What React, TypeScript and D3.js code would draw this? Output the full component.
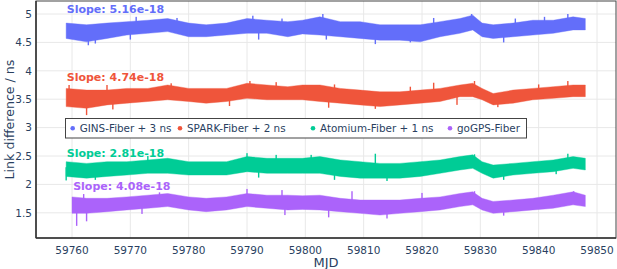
import * as d3 from "d3";

const days = [59759, 59762.5, 59766, 59769.4, 59773, 59776.4, 59780, 59783, 59786.5, 59790, 59793.4, 59797, 59799.5, 59802.5, 59806, 59809.4, 59812.8, 59816.2, 59819.7, 59823.1, 59826.5, 59828.7, 59830.3, 59832.2, 59835.6, 59839, 59842.5, 59845.9, 59848];
const goGpsDays = [59760, ...days.slice(1)];

const ginsHi = [4.84, 4.81, 4.84, 4.865, 4.89, 4.92, 4.84, 4.81, 4.84, 4.92, 4.89, 4.865, 4.89, 4.95, 4.865, 4.865, 4.81, 4.81, 4.81, 4.865, 4.92, 4.98, 4.84, 4.81, 4.84, 4.89, 4.89, 4.95, 4.92];
const ginsLo = [4.57, 4.51, 4.57, 4.63, 4.66, 4.69, 4.6, 4.6, 4.63, 4.66, 4.66, 4.6, 4.65, 4.63, 4.6, 4.57, 4.54, 4.54, 4.51, 4.6, 4.66, 4.72, 4.6, 4.57, 4.6, 4.63, 4.66, 4.72, 4.72];

const sparkHi = [3.69, 3.66, 3.66, 3.69, 3.69, 3.75, 3.69, 3.69, 3.69, 3.78, 3.75, 3.72, 3.75, 3.75, 3.69, 3.66, 3.63, 3.63, 3.66, 3.69, 3.75, 3.78, 3.69, 3.6, 3.66, 3.69, 3.72, 3.75, 3.75];
const sparkLo = [3.37, 3.34, 3.4, 3.43, 3.46, 3.49, 3.46, 3.43, 3.46, 3.515, 3.49, 3.49, 3.49, 3.46, 3.43, 3.4, 3.37, 3.4, 3.43, 3.46, 3.545, 3.545, 3.49, 3.4, 3.43, 3.49, 3.515, 3.545, 3.545];

const atomiumHi = [2.4, 2.37, 2.4, 2.4, 2.43, 2.46, 2.4, 2.4, 2.4, 2.49, 2.46, 2.46, 2.46, 2.49, 2.43, 2.4, 2.37, 2.37, 2.4, 2.43, 2.49, 2.52, 2.4, 2.34, 2.37, 2.4, 2.43, 2.49, 2.46];
const atomiumLo = [2.14, 2.11, 2.14, 2.165, 2.195, 2.195, 2.165, 2.165, 2.165, 2.224, 2.195, 2.195, 2.195, 2.195, 2.14, 2.11, 2.11, 2.11, 2.14, 2.195, 2.254, 2.283, 2.195, 2.11, 2.165, 2.195, 2.224, 2.283, 2.254];

const goGpsHi = [1.78, 1.755, 1.755, 1.78, 1.81, 1.84, 1.78, 1.755, 1.78, 1.84, 1.81, 1.81, 1.8, 1.81, 1.755, 1.725, 1.725, 1.725, 1.755, 1.78, 1.84, 1.87, 1.755, 1.7, 1.725, 1.755, 1.81, 1.87, 1.81];
const goGpsLo = [1.49, 1.49, 1.52, 1.55, 1.58, 1.61, 1.55, 1.52, 1.55, 1.61, 1.58, 1.55, 1.56, 1.55, 1.52, 1.49, 1.46, 1.49, 1.52, 1.55, 1.61, 1.64, 1.55, 1.49, 1.52, 1.55, 1.58, 1.64, 1.61];

// isolated excursions visible outside the bands: [MJD, value]
const ginsSpikes = [[59762.8, 4.45], [59764, 4.48], [59770, 4.55], [59771, 4.95], [59778, 4.93], [59791, 4.97], [59792, 4.55], [59796, 4.92], [59803, 5.0], [59803.6, 4.55], [59812, 4.47], [59818, 4.5], [59822, 4.93], [59828.5, 5.0], [59834, 4.5], [59836, 4.92], [59841, 4.95], [59845, 5.0]];
const sparkSpikes = [[59759.5, 3.75], [59762.5, 3.22], [59766, 3.75], [59767, 3.32], [59777, 3.78], [59787, 3.38], [59790.5, 3.82], [59795, 3.8], [59804, 3.35], [59805, 3.76], [59812, 3.33], [59818, 3.72], [59822, 3.79], [59826, 3.4], [59829, 3.82], [59833, 3.36], [59840, 3.76], [59845, 3.82]];
const atomiumSpikes = [[59759, 2.07], [59764, 2.08], [59773, 2.5], [59790, 2.55], [59792, 2.12], [59795, 2.52], [59801, 2.52], [59805, 2.08], [59812, 2.54], [59814, 2.06], [59829, 2.53], [59834, 2.08], [59843, 2.18], [59845, 2.54]];
const goGpsSpikes = [[59760.8, 1.27], [59762, 1.83], [59762.5, 1.35], [59772, 1.48], [59775, 1.86], [59790, 1.92], [59796, 1.9], [59796.5, 1.46], [59804, 1.42], [59808, 1.88], [59814, 1.4], [59820, 1.85], [59829, 1.88], [59834, 1.45], [59846, 1.88]];

const names = ["GINS-Fiber + 3 ns", "SPARK-Fiber + 2 ns", "Atomium-Fiber + 1 ns", "goGPS-Fiber"];
const colors = ["#636efa", "#EF553B", "#00cc96", "#ab63fa"];
const slopes = ["Slope: 5.16e-18", "Slope: 4.74e-18", "Slope: 2.81e-18", "Slope: 4.08e-18"];
const slopeX = [59759.1, 59759.1, 59759.1, 59760.2];
const slopeY = [5.02, 3.82, 2.49, 1.9];

const xTicks = [59760, 59770, 59780, 59790, 59800, 59810, 59820, 59830, 59840, 59850];
const yTicks = [1.5, 2, 2.5, 3, 3.5, 4, 4.5, 5];

const W = 617, H = 269;
const left = 36, right = 616, top = 1, bottom = 238;
const font = "'DejaVu Sans', Verdana, sans-serif";
const textColor = "#2a3f5f";

export default function App() {
  const x = d3.scaleLinear().domain([59760, 59850]).range([72, 597]);
  const y = d3.scaleLinear().domain([5, 1.5]).range([14, 212.8]);

  const series = [
    { d: days, hi: ginsHi, lo: ginsLo, spikes: ginsSpikes },
    { d: days, hi: sparkHi, lo: sparkLo, spikes: sparkSpikes },
    { d: days, hi: atomiumHi, lo: atomiumLo, spikes: atomiumSpikes },
    { d: goGpsDays, hi: goGpsHi, lo: goGpsLo, spikes: goGpsSpikes },
  ];

  const legendX = [72.7, 180, 313, 450];

  return (
    <svg width={W} height={H} style={{ position: "absolute", left: 0, top: 0, background: "#fff" }} fontFamily={font}>
      <rect x={left} y={top} width={right - left} height={bottom - top} fill="#fff" />
      {xTicks.map((t) => (
        <line key={"gx" + t} x1={x(t)} x2={x(t)} y1={top} y2={bottom} stroke="#e8e8e8" strokeWidth={1} />
      ))}
      {yTicks.map((t) => (
        <line key={"gy" + t} x1={left} x2={right} y1={y(t)} y2={y(t)} stroke="#e8e8e8" strokeWidth={1} />
      ))}

      {series.map((s, i) => {
        const mid = d3.mean(s.hi.map((h, k) => (h + s.lo[k]) / 2)) as number;
        const band = d3
          .area<number>()
          .x((_, k) => x(s.d[k]))
          .y0((_, k) => y(s.lo[k]))
          .y1((v) => y(v));
        return (
          <g key={"s" + i}>
            {s.spikes.map((p, k) => (
              <rect key={k} x={x(p[0]) - 0.7} y={Math.min(y(p[1]), y(mid))} width={1.4}
                height={Math.abs(y(p[1]) - y(mid))} fill={colors[i]} />
            ))}
            <path d={band(s.hi) || ""} fill={colors[i]} stroke={colors[i]} strokeWidth={0.8} strokeOpacity={0.5} />
          </g>
        );
      })}

      {slopes.map((t, i) => (
        <text key={"sl" + i} x={x(slopeX[i])} y={y(slopeY[i])} fill={colors[i]} fontSize={11} fontWeight="bold">
          {t}
        </text>
      ))}

      {/* legend */}
      <rect x={65.5} y={118.5} width={461} height={19.5} fill="#fff" stroke="#444" strokeWidth={1} />
      {names.map((n, i) => (
        <g key={"lg" + i}>
          <circle cx={legendX[i]} cy={128.3} r={2.3} fill={colors[i]} />
          <text x={legendX[i] + 7} y={132} fontSize={10.4} fill={textColor}>{n}</text>
        </g>
      ))}

      {/* frame */}
      <rect x={left} y={top} width={right - left} height={bottom - top} fill="none" stroke="#444" strokeWidth={1} />
      <line x1={left} x2={left} y1={top} y2={bottom} stroke="#333" strokeWidth={1.5} />
      <line x1={left} x2={right} y1={bottom} y2={bottom} stroke="#333" strokeWidth={1.5} />

      {xTicks.map((t) => (
        <text key={"tx" + t} x={x(t)} y={254} textAnchor="middle" fontSize={10.5} fill={textColor}>{t}</text>
      ))}
      {yTicks.map((t) => (
        <text key={"ty" + t} x={32} y={y(t) + 3.8} textAnchor="end" fontSize={10.5} fill={textColor}>{t}</text>
      ))}

      <text x={(left + right) / 2} y={267} textAnchor="middle" fontSize={13} fill={textColor}>MJD</text>
      <text transform={`translate(14,${(top + bottom) / 2}) rotate(-90)`} textAnchor="middle" fontSize={12.6} fill={textColor}>
        Link difference / ns
      </text>
    </svg>
  );
}
